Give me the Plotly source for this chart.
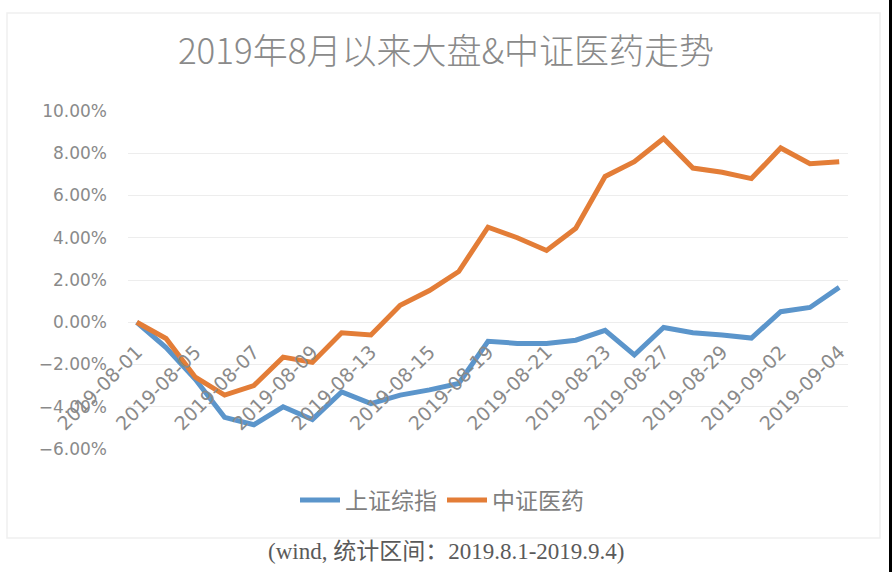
import plotly.graph_objects as go

dates = ["2019-08-01", "2019-08-02", "2019-08-05", "2019-08-06", "2019-08-07",
         "2019-08-08", "2019-08-09", "2019-08-12", "2019-08-13", "2019-08-14",
         "2019-08-15", "2019-08-16", "2019-08-19", "2019-08-20", "2019-08-21",
         "2019-08-22", "2019-08-23", "2019-08-26", "2019-08-27", "2019-08-28",
         "2019-08-29", "2019-08-30", "2019-09-02", "2019-09-03", "2019-09-04"]

sh_composite = [0.00, -1.20, -2.70, -4.50, -4.85, -4.00, -4.60, -3.30, -3.85, -3.45,
                -3.20, -2.90, -0.90, -1.00, -1.00, -0.85, -0.38, -1.55, -0.25, -0.50,
                -0.60, -0.75, 0.50, 0.70, 1.65]

csi_pharma = [0.00, -0.77, -2.60, -3.45, -3.00, -1.65, -1.90, -0.50, -0.60, 0.80,
              1.50, 2.40, 4.50, 4.00, 3.40, 4.45, 6.90, 7.60, 8.70, 7.30,
              7.10, 6.80, 8.25, 7.50, 7.60]

tick_labels = dates[::2]

names = ["上证综指", "中证医药"]
colors = ["#5B95CB", "#E37D37"]


def px_x(p):
    return (p - 128) / 720


def px_y(p):
    return (449 - p) / 338


fig = go.Figure()
for name, vals, col in zip(names, [sh_composite, csi_pharma], colors):
    fig.add_trace(go.Scatter(
        x=dates, y=vals, name=name, mode="lines",
        line=dict(color=col, width=5),
        hoverinfo="skip",
    ))

fig.update_layout(
    width=892, height=572,
    margin=dict(l=128, r=44, t=111, b=123),
    paper_bgcolor="white", plot_bgcolor="white",
    title=dict(
        text="2019年8月以来大盘&中证医药走势",
        x=0.5, xref="container", xanchor="center",
        y=1 - 52 / 572, yref="container", yanchor="middle",
        font=dict(family="Noto Sans CJK SC", size=35, color="#8a8a8a", weight=300),
    ),
    showlegend=True,
    legend=dict(
        orientation="h", x=px_x(442), xanchor="center",
        y=px_y(500), yanchor="middle",
        font=dict(family="Noto Sans CJK SC", size=23, color="#7f7f7f"),
        itemwidth=40, bgcolor="rgba(0,0,0,0)",
    ),
    xaxis=dict(
        type="category", categoryorder="array", categoryarray=dates,
        range=[-0.3, len(dates) - 1 + 0.3],
        tickmode="array", tickvals=tick_labels, ticktext=tick_labels,
        tickangle=-45,
        tickfont=dict(family="DejaVu Sans", size=19, color="#8a8a8a"),
        anchor="free", position=6 / 16,
        showgrid=False, showline=False, ticks="",
        zeroline=False, ticklabelstandoff=14,
    ),
    yaxis=dict(
        range=[-6, 10], dtick=2, tick0=0,
        tickformat=".2f", ticksuffix="%",
        tickfont=dict(family="DejaVu Sans", size=17, color="#8a8a8a"),
        showgrid=True, gridcolor="#ededed", gridwidth=1,
        zeroline=False, showline=False, ticks="",
        ticklabelstandoff=20,
    ),
    annotations=[
        dict(
            text="(wind, 统计区间：2019.8.1-2019.9.4)",
            xref="paper", yref="paper", x=px_x(446), y=px_y(551),
            xanchor="center", yanchor="middle", showarrow=False,
            font=dict(family="Liberation Serif, Noto Sans CJK SC", size=23, color="#5a5a5a"),
        )
    ],
    shapes=[
        dict(type="rect", xref="paper", yref="paper",
             x0=px_x(7), x1=px_x(880), y0=px_y(538), y1=px_y(13),
             line=dict(color="#f0f0f0", width=1.5), layer="below"),
        dict(type="rect", xref="paper", yref="paper",
             x0=px_x(889), x1=px_x(900), y0=px_y(600), y1=px_y(-30),
             line=dict(width=0), fillcolor="#000000", layer="above"),
    ],
)

fig.write_html("out.html")
